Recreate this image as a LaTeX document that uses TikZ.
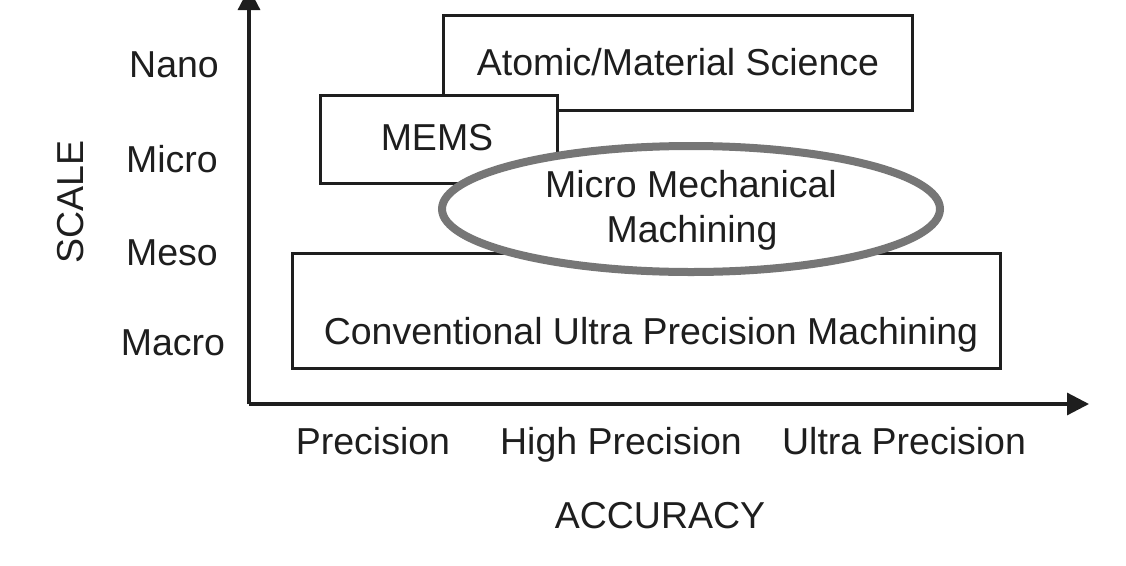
\documentclass[tikz,border=0pt]{standalone}
\usepackage{fontspec}
\setmainfont{Liberation Sans}
\usetikzlibrary{arrows.meta,shapes.geometric}
\definecolor{ellgray}{RGB}{118,118,118}
\definecolor{ink}{RGB}{30,30,30}
\begin{document}
\begin{tikzpicture}[x=1pt,y=-1pt,
  lbl/.style={font=\fontsize{37.5}{42}\selectfont, text=ink, inner sep=0pt, anchor=base},
  box/.style={draw=ink, line width=3pt, fill=white, rectangle, inner sep=0pt},
  axis/.style={draw=ink, line width=3.2pt, -{Triangle[length=22pt,width=22pt]}},
  oval/.style={draw=ellgray, line width=8pt, fill=white, ellipse, inner sep=0pt}
]
\useasboundingbox (0,0) rectangle (1126,565);
% axes
\coordinate (O) at (249,404);
\coordinate (ytop) at (249,-12);
\coordinate (xend) at (1089,404);
\draw[axis] (O) -- (ytop);
\draw[axis] (O) -- (xend);
% boxes
\node[box, minimum width=469pt, minimum height=95pt] (atomic) at (677.5,62.5) {};
\node[box, minimum width=237pt, minimum height=88pt] (mems) at (438.5,139) {};
\node[box, minimum width=708pt, minimum height=115pt] (conv) at (646,310.5) {};
\node[oval, minimum width=498pt, minimum height=126pt] (mmm) at (691,209) {};
% box texts
\node[lbl] (tatomic) at (678,75) {Atomic/Material Science};
\node[lbl] (tmems) at (437,150) {MEMS};
\node[lbl] (tmmm1) at (691,197) {Micro Mechanical};
\node[lbl] (tmmm2) at (692,242) {Machining};
\node[lbl] (tconv) at (651,344) {Conventional Ultra Precision Machining};
% y labels
\node[lbl] (nano) at (174,77) {Nano};
\node[lbl] (micro) at (172,172) {Micro};
\node[lbl] (meso) at (172,265) {Meso};
\node[lbl] (macro) at (173,355) {Macro};
\node[lbl, rotate=90] (scale) at (83,202) {SCALE};
% x labels
\node[lbl] (prec) at (373,454) {Precision};
\node[lbl] (hprec) at (621,454) {High Precision};
\node[lbl] (uprec) at (904,454) {Ultra Precision};
\node[lbl] (acc) at (660,528) {ACCURACY};
\end{tikzpicture}
\end{document}
